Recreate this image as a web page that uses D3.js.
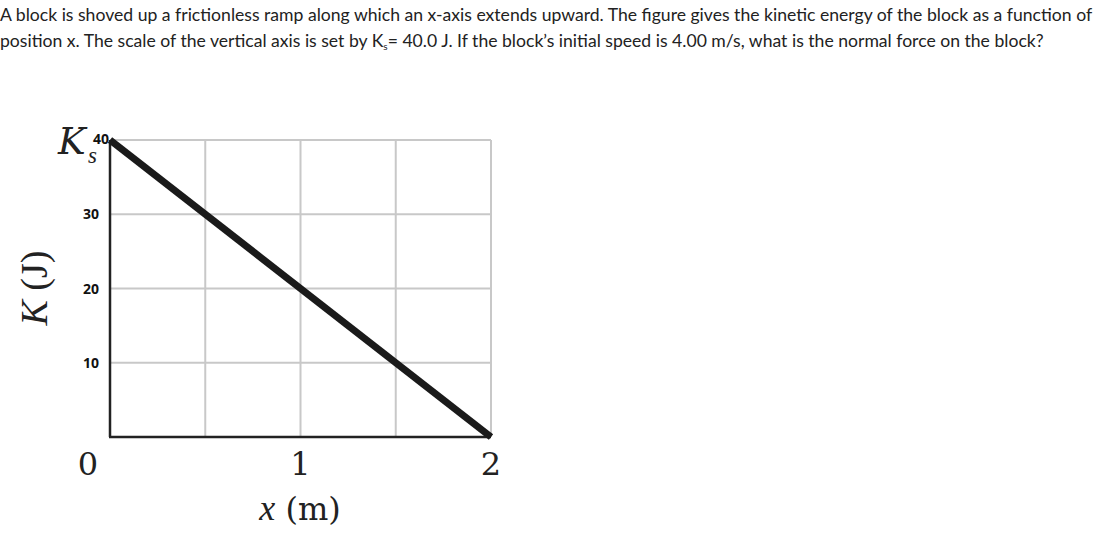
<!DOCTYPE html>
<html>
<head>
<meta charset="utf-8">
<script src="https://cdn.jsdelivr.net/npm/d3@7"></script>
<style>
html,body{margin:0;padding:0;background:#fff;}
.q{position:absolute;left:0;top:2px;font-family:Lato,sans-serif;font-size:17.6px;line-height:26px;color:#222;width:1106px;white-space:nowrap;}
svg{position:absolute;left:0;top:0;}
</style>
</head>
<body>
<div class="q">A block is shoved up a frictionless ramp along which an x-axis extends upward. The figure gives the kinetic energy of the block as a function of<br>position x. The scale of the vertical axis is set by K<sub style="font-size:10px;vertical-align:-3px">s</sub>= 40.0 J. If the block’s initial speed is 4.00 m/s, what is the normal force on the block?</div>
<svg id="c" width="1106" height="555"></svg>
<script>
const positions = [0, 2];
const kinetic = [40, 0];
const yTicks = [10, 20, 30, 40];
const xGrid = [0.5, 1, 1.5, 2];
const xTickLabels = [0, 1, 2];

const svg = d3.select("#c");
const x = d3.scaleLinear().domain([0, 2]).range([110, 491]);
const y = d3.scaleLinear().domain([0, 40]).range([437, 140]);

// grid
svg.append("g").selectAll("line").data(xGrid).join("line")
  .attr("x1", d => x(d)).attr("x2", d => x(d))
  .attr("y1", y(40)).attr("y2", y(0))
  .attr("stroke", "#c8c8c8").attr("stroke-width", 2);
svg.append("g").selectAll("line").data(yTicks).join("line")
  .attr("x1", x(0)).attr("x2", x(2))
  .attr("y1", d => y(d)).attr("y2", d => y(d))
  .attr("stroke", "#c8c8c8").attr("stroke-width", 2);

// axes
svg.append("line").attr("x1", x(0)).attr("x2", x(0)).attr("y1", y(40)).attr("y2", y(0))
  .attr("stroke", "#222").attr("stroke-width", 2.5);
svg.append("line").attr("x1", x(0) - 1).attr("x2", x(2)).attr("y1", y(0)).attr("y2", y(0))
  .attr("stroke", "#222").attr("stroke-width", 2.5);

// data line
const line = d3.line().x(d => x(d[0])).y(d => y(d[1]));
svg.append("path").datum(positions.map((p, i) => [p, kinetic[i]]))
  .attr("d", line).attr("fill", "none").attr("stroke", "#1a1a1a")
  .attr("stroke-width", 7).attr("stroke-linecap", "butt");

// y tick labels
svg.append("g").selectAll("text").data(yTicks).join("text")
  .attr("x", d => d === 40 ? 101 : 91)
  .attr("y", d => y(d) + (d === 40 ? 4 : 5))
  .attr("text-anchor", "middle")
  .attr("font-family", "Open Sans, sans-serif").attr("font-weight", "bold")
  .attr("font-size", 14).attr("fill", "#111")
  .text(d => d);

// K_s label
svg.append("text").attr("x", 58).attr("y", 154)
  .attr("font-family", "DejaVu Serif, serif").attr("font-style", "italic")
  .attr("font-size", 37).attr("fill", "#222").text("K");
svg.append("text").attr("x", 88).attr("y", 163)
  .attr("font-family", "Liberation Serif, serif").attr("font-style", "italic")
  .attr("font-size", 23).attr("fill", "#222").text("s");

// x tick labels
svg.append("g").selectAll("text").data(xTickLabels).join("text")
  .attr("x", d => d === 0 ? 88 : x(d))
  .attr("y", 475)
  .attr("text-anchor", "middle")
  .attr("font-family", "DejaVu Serif, serif")
  .attr("font-size", 32).attr("fill", "#222")
  .text(d => d);

// x axis title
const xt = svg.append("text").attr("x", 300).attr("y", 520).attr("text-anchor", "middle")
  .attr("font-family", "DejaVu Serif, serif").attr("font-size", 32).attr("fill", "#222");
xt.append("tspan").attr("font-style", "italic").attr("font-family", "Liberation Serif, serif").attr("font-size", 36).text("x");
xt.append("tspan").text(" (m)");

// y axis title
const yt = svg.append("text").attr("transform", "translate(47,288) rotate(-90)")
  .attr("text-anchor", "middle")
  .attr("font-family", "Liberation Serif, serif").attr("font-size", 38).attr("fill", "#222");
yt.append("tspan").attr("font-style", "italic").text("K");
yt.append("tspan").text(" (J)");
</script>
</body>
</html>
